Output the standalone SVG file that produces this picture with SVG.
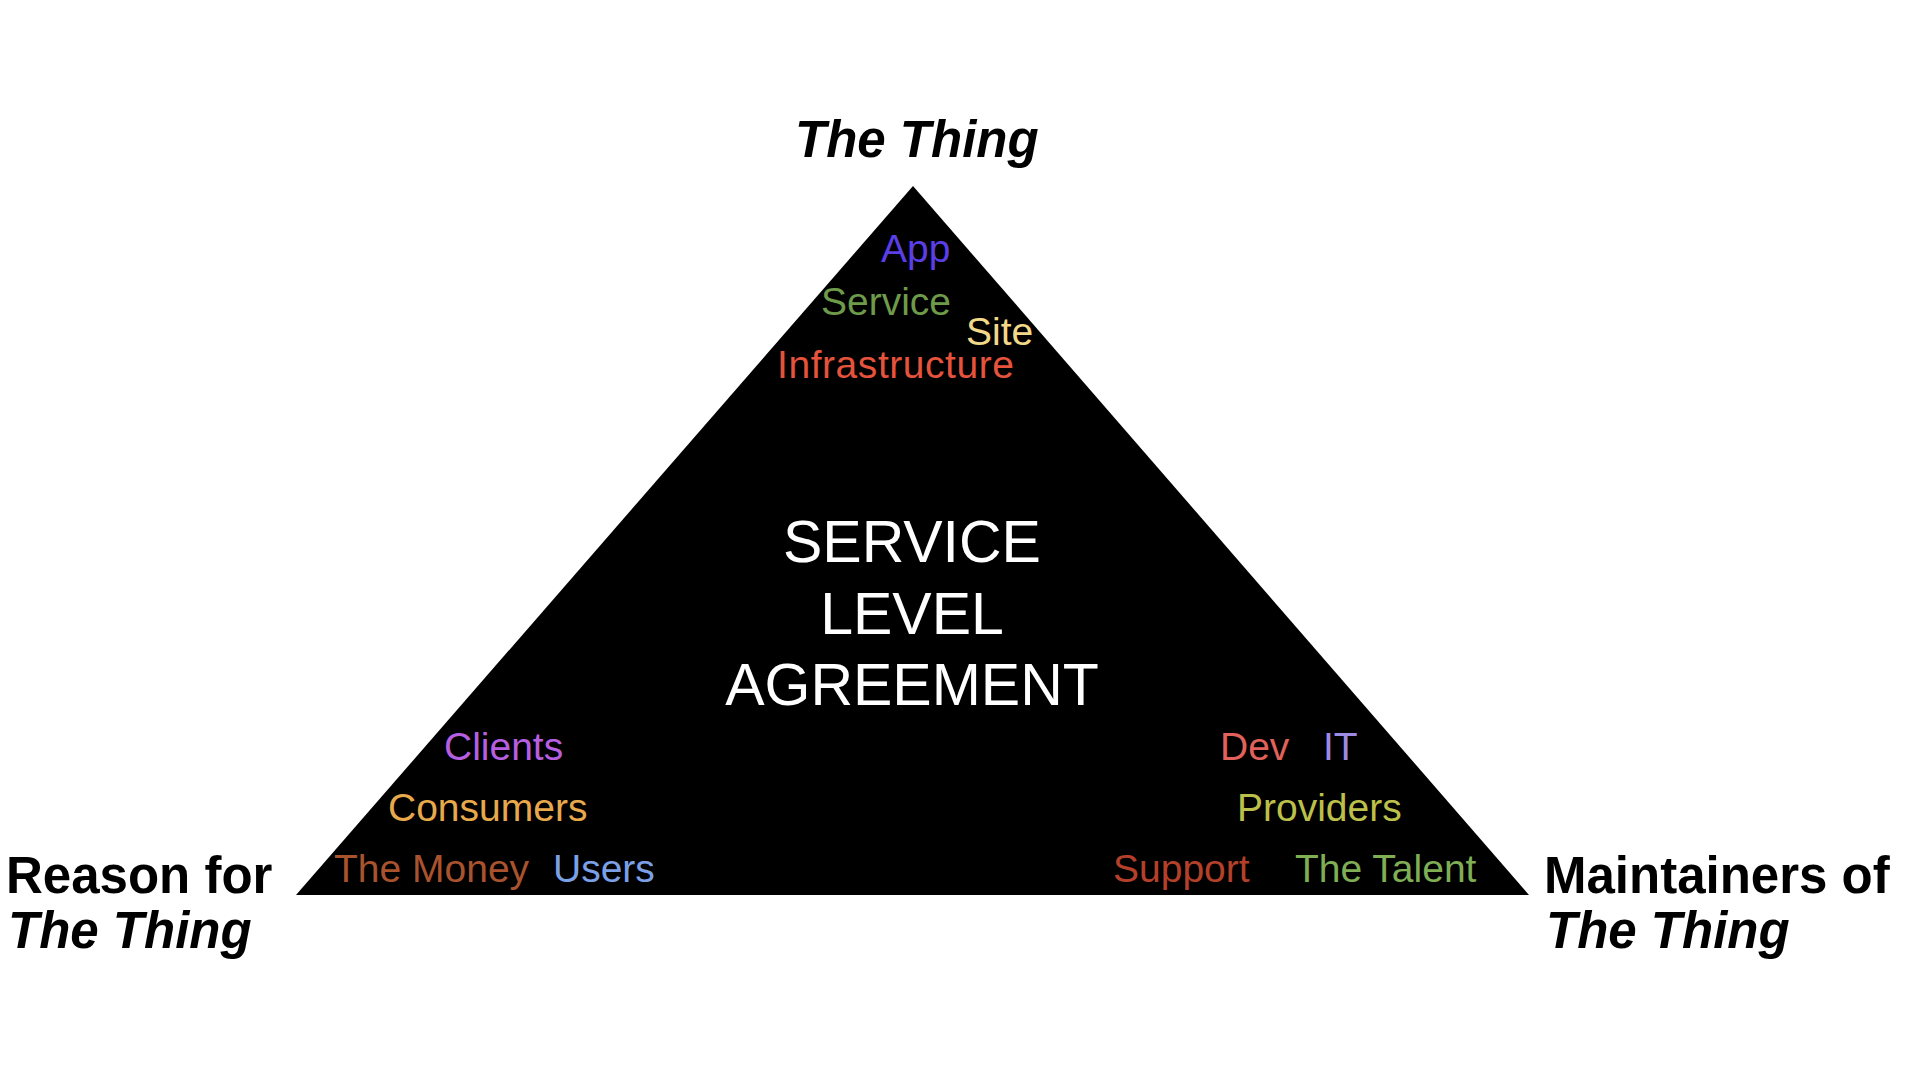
<svg xmlns="http://www.w3.org/2000/svg" width="1920" height="1080" viewBox="0 0 1920 1080">
<style>
.t{font-family:"Liberation Sans",Arial,sans-serif;font-size:39px}
.b{font-family:"Liberation Sans",Arial,sans-serif;font-size:51px;font-weight:bold;fill:#000}
.c{font-family:"Liberation Sans",Arial,sans-serif;font-size:59px;fill:#fff;text-anchor:middle}
</style>
<rect width="1920" height="1080" fill="#fff"/>
<g id="pyramid"><polygon points="913,186 296,895 1529,895" fill="#000"/></g>
<g id="top">
<text class="b" x="795" y="157" font-style="italic" font-size="53">The Thing</text>
<text class="t" x="881" y="262" fill="#5a3ee6">App</text>
<text class="t" x="821" y="315" fill="#6e9b4a">Service</text>
<text class="t" x="966" y="345" fill="#f2d98a">Site</text>
<text class="t" x="777" y="378" fill="#e5533c" textLength="237">Infrastructure</text>
</g>
<g id="center">
<text class="c" x="912" y="562">SERVICE</text>
<text class="c" x="912" y="634">LEVEL</text>
<text class="c" x="912" y="705">AGREEMENT</text>
</g>
<g id="left">
<text class="t" x="444" y="760" fill="#b65fe0">Clients</text>
<text class="t" x="388" y="821" fill="#e7a94c">Consumers</text>
<text class="t" x="334" y="882" fill="#a9532e">The Money</text>
<text class="t" x="553" y="882" fill="#7ba0e6">Users</text>
<text class="b" x="6" y="893">Reason for</text>
<text class="b" x="8" y="948" font-style="italic">The Thing</text>
</g>
<g id="right">
<text class="t" x="1220" y="760" fill="#e0625a">Dev</text>
<text class="t" x="1323" y="760" fill="#9d8ae6">IT</text>
<text class="t" x="1237" y="821" fill="#bcc04a">Providers</text>
<text class="t" x="1113" y="882" fill="#b4402a">Support</text>
<text class="t" x="1295" y="882" fill="#7fae55">The Talent</text>
<text class="b" x="1544" y="893">Maintainers of</text>
<text class="b" x="1546" y="948" font-style="italic">The Thing</text>
</g>
<g id="connectors"/>
</svg>
